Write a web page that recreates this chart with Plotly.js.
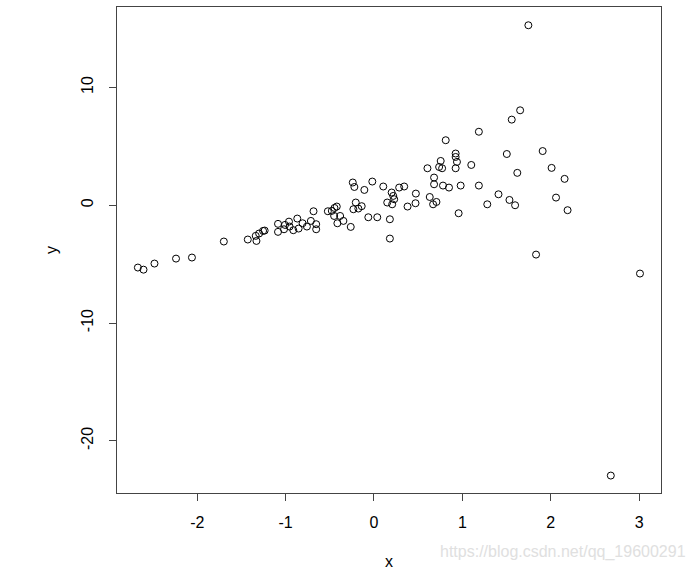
<!DOCTYPE html>
<html>
<head>
<meta charset="utf-8">
<script src="https://cdn.plot.ly/plotly-3.0.1.min.js"></script>
<style>html,body{margin:0;padding:0;background:#fff;}#chart{width:688px;height:570px;}</style>
</head>
<body>
<div id="chart"></div>
<script>
const xValues = [
  -2.672, -2.608, -2.484, -2.240, -2.060, -1.699, -1.428, -1.330, -1.338, -1.300,
  -1.255, -1.237, -1.086, -1.086, -1.018, -1.007, -0.962, -0.955, -0.913, -0.868,
  -0.853, -0.808, -0.759, -0.714, -0.684, -0.654, -0.654, -0.522, -0.477, -0.447,
  -0.421, -0.451, -0.414, -0.383, -0.346, -0.263, -0.240, -0.222, -0.109, -0.019,
  0.105, 0.285, 0.342, -0.206, -0.233, -0.177, -0.139, -0.064, 0.037, 0.150,
  0.200, 0.218, 0.206, 0.229, 0.180, 0.180, 0.380, 0.474, 0.470, 0.605,
  0.631, 1.559, 1.187, 0.812, 0.924, 0.924, 0.939, 0.924, 0.755, 0.737,
  0.771, 1.101, 1.503, 1.909, 2.010, 1.622, 0.680, 0.680, 0.781, 0.849,
  0.981, 1.187, 1.409, 1.533, 1.597, 1.282, 2.060, 0.707, 0.669, 0.958,
  1.747, 1.654, 2.157, 2.191, 1.834, 3.010, 2.680
];
const yValues = [
  -5.29, -5.47, -4.95, -4.53, -4.44, -3.08, -2.91, -3.03, -2.60, -2.40,
  -2.18, -2.15, -1.58, -2.26, -2.04, -1.67, -1.39, -1.81, -2.12, -1.13,
  -1.98, -1.53, -1.81, -1.33, -0.51, -1.61, -2.04, -0.51, -0.48, -0.23,
  -0.11, -0.91, -1.53, -0.91, -1.33, -1.84, 1.93, 1.55, 1.30, 2.01,
  1.59, 1.50, 1.59, 0.23, -0.34, -0.28, -0.08, -1.02, -1.02, 0.23,
  1.08, 0.79, 0.08, 0.51, -1.19, -2.83, -0.11, 0.99, 0.17, 3.14,
  0.70, 7.27, 6.24, 5.52, 4.39, 4.10, 3.68, 3.14, 3.76, 3.25,
  3.14, 3.42, 4.35, 4.60, 3.17, 2.75, 2.35, 1.78, 1.67, 1.50,
  1.67, 1.67, 0.93, 0.45, 0.00, 0.08, 0.65, 0.28, 0.08, -0.68,
  15.28, 8.06, 2.24, -0.42, -4.19, -5.80, -22.95
];
const xTicks = [-2, -1, 0, 1, 2, 3];
const yTicks = [-20, -10, 0, 10];
const xLabel = 'x';
const yLabel = 'y';
const watermark = 'https://blog.csdn.net/qq_19600291';

const font = {family: 'Liberation Sans, Arial, sans-serif', size: 16, color: '#000'};

Plotly.newPlot('chart', [{
  x: xValues, y: yValues, type: 'scatter', mode: 'markers',
  marker: {symbol: 'circle-open', size: 7, color: '#000', line: {width: 1, color: '#000'}},
  hoverinfo: 'none'
}], {
  width: 688, height: 570,
  margin: {l: 117, r: 27, t: 7, b: 77},
  paper_bgcolor: '#fff', plot_bgcolor: '#fff',
  font: font,
  showlegend: false,
  xaxis: {
    range: [-2.908, 3.248], tickvals: xTicks, ticktext: xTicks.map(String),
    showgrid: false, zeroline: false, showline: true, mirror: true,
    linecolor: '#444', linewidth: 1, ticks: 'outside', ticklen: 7, tickcolor: '#444',
    tickfont: font, ticklabelstandoff: 8,
    title: {text: xLabel, font: font, standoff: 29}
  },
  yaxis: {
    range: [-24.43, 16.83], tickvals: yTicks, ticktext: yTicks.map(String),
    tickangle: -90,
    showgrid: false, zeroline: false, showline: true, mirror: true,
    linecolor: '#444', linewidth: 1, ticks: 'outside', ticklen: 7, tickcolor: '#444',
    tickfont: font, ticklabelstandoff: 10,
    title: {text: yLabel, font: font, standoff: 16}
  },
  annotations: [{
    text: watermark, xref: 'paper', yref: 'paper', x: 1.05, y: -0.122,
    xanchor: 'right', yanchor: 'middle', showarrow: false,
    font: {family: 'Liberation Sans, Arial, sans-serif', size: 16, color: '#e0e0e0'}
  }]
}, {displayModeBar: false, staticPlot: true});
</script>
</body>
</html>
